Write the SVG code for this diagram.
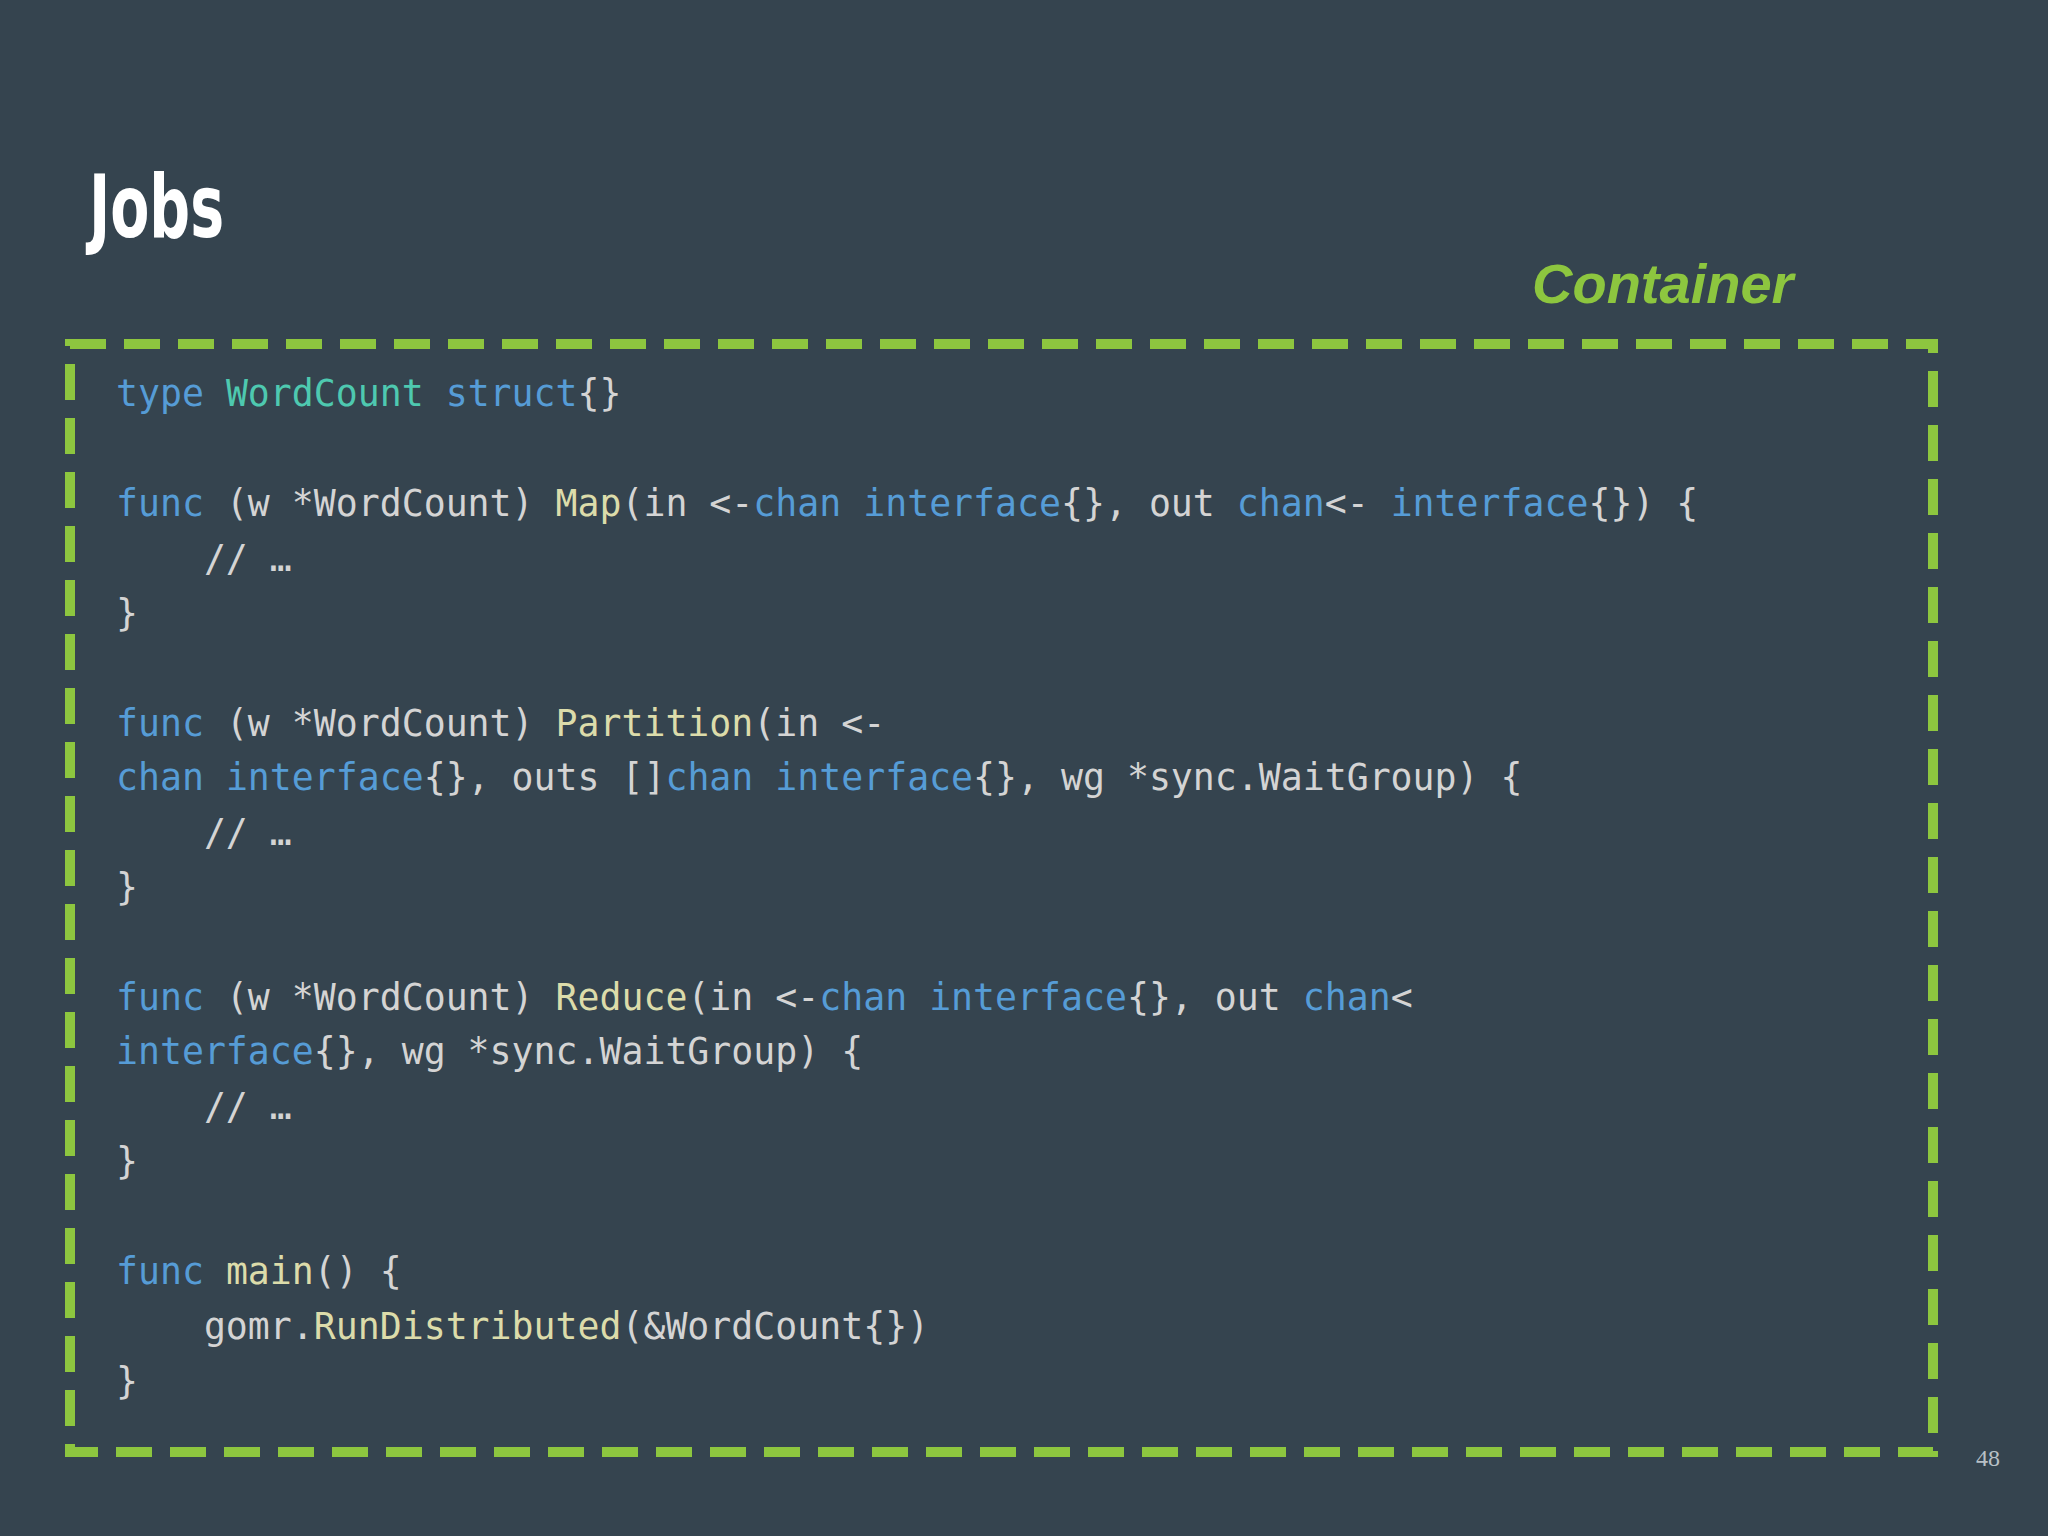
<svg xmlns="http://www.w3.org/2000/svg" width="2048" height="1536" viewBox="0 0 2048 1536">
<style>
.c{font-family:"DejaVu Sans Mono","Liberation Mono",monospace;font-size:36.5px;fill:#d4d4d4;white-space:pre}
.k{fill:#569cd6}.t{fill:#4ec9b0}.f{fill:#dcdcaa}
</style>
<rect width="2048" height="1536" fill="#35444f"/>
<text x="89" y="237" font-family="DejaVu Sans Condensed, DejaVu Sans, sans-serif" font-weight="bold" font-size="88" fill="#ffffff" transform="translate(89 0) scale(0.72 1) translate(-89 0)">Jobs</text>
<text x="1532" y="303" font-family="Liberation Sans, sans-serif" font-weight="bold" font-style="italic" font-size="56" fill="#8dc63f">Container</text>
<g id="container"><rect x="70" y="344" width="1863" height="1108" fill="none" stroke="#8dc63f" stroke-width="10" stroke-dasharray="36,18"/></g>
<g id="code" xml:space="preserve">
<text class="c" x="116" y="406"><tspan class="k">type</tspan> <tspan class="t">WordCount</tspan> <tspan class="k">struct</tspan>{}</text>
<text class="c" x="116" y="516"><tspan class="k">func</tspan> (w *WordCount) <tspan class="f">Map</tspan>(in &lt;-<tspan class="k">chan</tspan> <tspan class="k">interface</tspan>{}, out <tspan class="k">chan</tspan>&lt;- <tspan class="k">interface</tspan>{}) {</text>
<text class="c" x="116" y="571">    // …</text>
<text class="c" x="116" y="626">}</text>
<text class="c" x="116" y="736"><tspan class="k">func</tspan> (w *WordCount) <tspan class="f">Partition</tspan>(in &lt;-</text>
<text class="c" x="116" y="790"><tspan class="k">chan</tspan> <tspan class="k">interface</tspan>{}, outs []<tspan class="k">chan</tspan> <tspan class="k">interface</tspan>{}, wg *sync.WaitGroup) {</text>
<text class="c" x="116" y="845">    // …</text>
<text class="c" x="116" y="900">}</text>
<text class="c" x="116" y="1010"><tspan class="k">func</tspan> (w *WordCount) <tspan class="f">Reduce</tspan>(in &lt;-<tspan class="k">chan</tspan> <tspan class="k">interface</tspan>{}, out <tspan class="k">chan</tspan>&lt;</text>
<text class="c" x="116" y="1064"><tspan class="k">interface</tspan>{}, wg *sync.WaitGroup) {</text>
<text class="c" x="116" y="1119">    // …</text>
<text class="c" x="116" y="1174">}</text>
<text class="c" x="116" y="1284"><tspan class="k">func</tspan> <tspan class="f">main</tspan>() {</text>
<text class="c" x="116" y="1339">    gomr.<tspan class="f">RunDistributed</tspan>(&amp;WordCount{})</text>
<text class="c" x="116" y="1394">}</text>
</g>
<text x="1976" y="1466" font-family="Liberation Serif, serif" font-size="24" fill="#b8c0c6">48</text>
</svg>
